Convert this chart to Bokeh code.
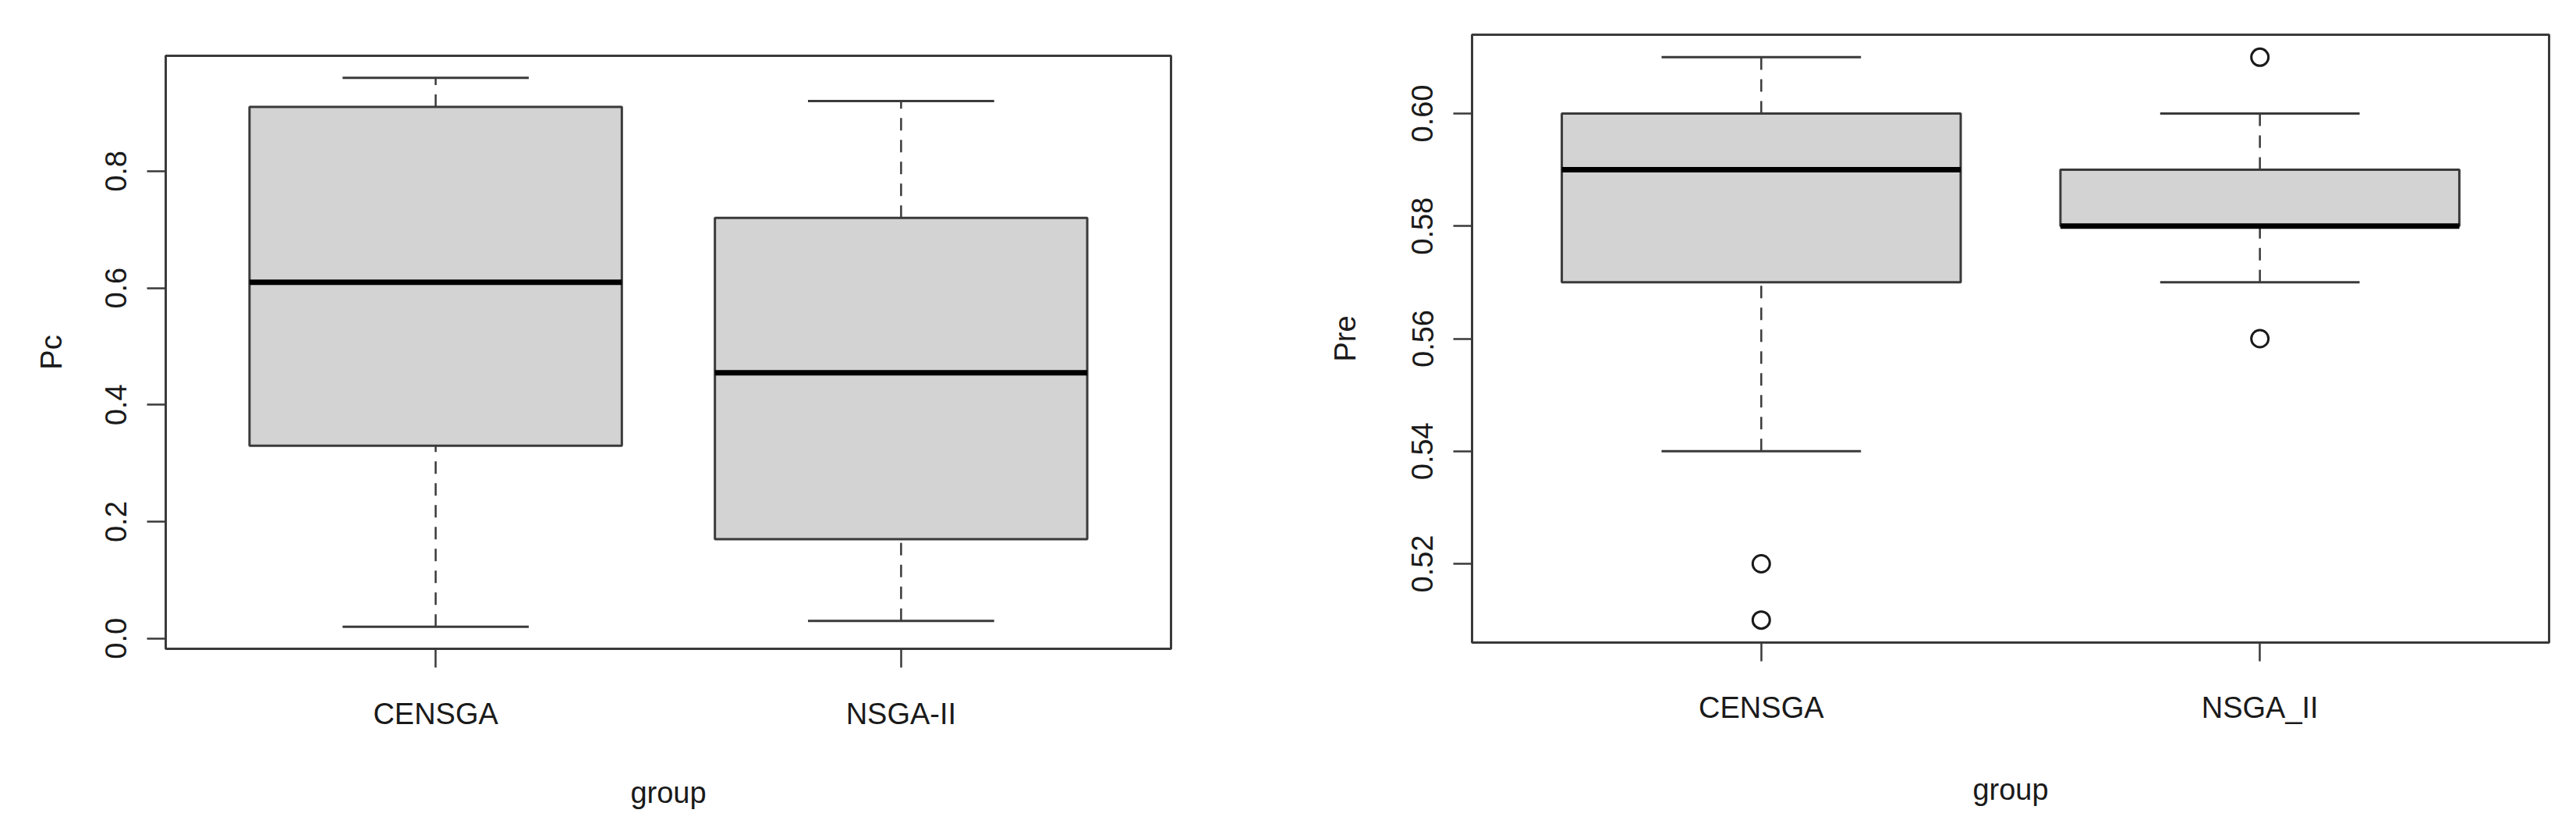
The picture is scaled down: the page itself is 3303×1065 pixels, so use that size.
from bokeh.plotting import figure
from bokeh.layouts import row, column
from bokeh.models import Range1d, FixedTicker, PrintfTickFormatter, ColumnDataSource, Spacer
from bokeh.embed import file_html
from bokeh.resources import INLINE

# ---------------- data ----------------
groups_pc = ["CENSGA", "NSGA-II"]
pc_lower = [0.02, 0.03]
pc_q1 = [0.33, 0.17]
pc_median = [0.61, 0.455]
pc_q3 = [0.91, 0.72]
pc_upper = [0.96, 0.92]
pc_outliers = [[], []]
pc_ticks = [0.0, 0.2, 0.4, 0.6, 0.8]

groups_pre = ["CENSGA", "NSGA_II"]
pre_lower = [0.54, 0.57]
pre_q1 = [0.57, 0.58]
pre_median = [0.59, 0.58]
pre_q3 = [0.60, 0.59]
pre_upper = [0.61, 0.60]
pre_outliers = [[0.52, 0.51], [0.61, 0.56]]
pre_ticks = [0.52, 0.54, 0.56, 0.58, 0.60]

FONT = "Liberation Sans"
LINE = "#3a3a3a"
TEXT = "#1a1a1a"


def make_panel(groups, lower, q1, med, q3, upper, outliers, ticks, fmt, ylabel,
               width, height, bl, br, bt, bb, ylab_standoff, xlab_standoff):
    n = len(groups)
    pos = [i + 1 for i in range(n)]
    allv = lower + upper + [v for o in outliers for v in o]
    lo, hi = min(allv), max(allv)
    ext = (hi - lo) * 0.04
    xlo, xhi = 0.5, n + 0.5
    xext = (xhi - xlo) * 0.04

    p = figure(width=width, height=height, output_backend="svg", toolbar_location=None,
               x_range=Range1d(xlo - xext, xhi + xext), y_range=Range1d(lo - ext, hi + ext),
               min_border_left=bl, min_border_right=br, min_border_top=bt, min_border_bottom=bb)
    p.xgrid.visible = False
    p.ygrid.visible = False
    p.background_fill_color = "white"
    p.border_fill_color = "white"
    p.outline_line_color = LINE
    p.outline_line_width = 3

    bw = 0.8
    sw = 0.4
    src = ColumnDataSource(dict(
        x=pos, lower=lower, q1=q1, med=med, q3=q3, upper=upper,
        bl=[x - bw / 2 for x in pos], br=[x + bw / 2 for x in pos],
        sl=[x - sw / 2 for x in pos], sr=[x + sw / 2 for x in pos],
    ))
    # whiskers
    p.segment(x0="x", x1="x", y0="q3", y1="upper", source=src, line_color=LINE,
              line_width=2.5, line_dash="16 12")
    p.segment(x0="x", x1="x", y0="lower", y1="q1", source=src, line_color=LINE,
              line_width=2.5, line_dash="16 12")
    # staples
    p.segment(x0="sl", x1="sr", y0="upper", y1="upper", source=src, line_color=LINE, line_width=3)
    p.segment(x0="sl", x1="sr", y0="lower", y1="lower", source=src, line_color=LINE, line_width=3)
    # boxes
    p.vbar(x="x", width=bw, bottom="q1", top="q3", source=src, fill_color="#d3d3d3",
           line_color=LINE, line_width=3)
    # medians
    p.segment(x0="bl", x1="br", y0="med", y1="med", source=src, line_color="black", line_width=7)
    # outliers
    ox = [pos[i] for i in range(n) for _ in outliers[i]]
    oy = [v for o in outliers for v in o]
    if ox:
        p.scatter(ox, oy, marker="circle", size=22, fill_color=None, line_color=TEXT, line_width=3)

    # axes
    p.xaxis.ticker = FixedTicker(ticks=pos)
    p.xaxis.major_label_overrides = {x: g for x, g in zip(pos, groups)}
    p.xaxis.axis_label = "group"
    p.yaxis.ticker = FixedTicker(ticks=ticks)
    p.yaxis.formatter = PrintfTickFormatter(format=fmt)
    p.yaxis.axis_label = ylabel
    p.yaxis.major_label_orientation = "vertical"
    for ax in (p.xaxis[0], p.yaxis[0]):
        ax.axis_line_color = None
        ax.major_tick_in = 0
        ax.major_tick_out = 24
        ax.major_tick_line_color = LINE
        ax.major_tick_line_width = 2.5
        ax.minor_tick_line_color = None
        ax.major_label_text_font = FONT
        ax.major_label_text_font_size = "38px"
        ax.major_label_text_color = TEXT
        ax.axis_label_text_font = FONT
        ax.axis_label_text_font_size = "38px"
        ax.axis_label_text_font_style = "normal"
        ax.axis_label_text_color = TEXT
    p.xaxis.major_label_standoff = 38
    p.xaxis.axis_label_standoff = xlab_standoff
    p.yaxis.major_label_standoff = 26
    p.yaxis.axis_label_standoff = ylab_standoff
    return p


p1 = make_panel(groups_pc, pc_lower, pc_q1, pc_median, pc_q3, pc_upper, pc_outliers,
                pc_ticks, "%.1f", "Pc", 1650, 1030, 212, 149, 44, 226, 46, 56)
p2 = make_panel(groups_pre, pre_lower, pre_q1, pre_median, pre_q3, pre_upper, pre_outliers,
                pre_ticks, "%.2f", "Pre", 1653, 1049, 237, 35, 44, 226, 62, 60)

layout = row(column(Spacer(width=1650, height=27), p1), p2)
open("out.html", "w").write(file_html(layout, INLINE))
